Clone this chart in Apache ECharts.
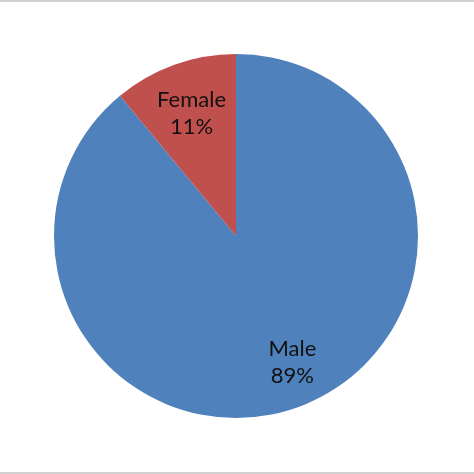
<!DOCTYPE html>
<html>
<head>
<meta charset="utf-8">
<script src="https://cdn.jsdelivr.net/npm/echarts@6/dist/echarts.min.js"></script>
<style>
  html, body { margin: 0; padding: 0; background: #fff; }
  #chart { width: 474px; height: 474px; box-sizing: border-box;
           border-top: 2px solid #d0d0d0; border-bottom: 2px solid #d0d0d0; }
</style>
</head>
<body>
<div id="chart"></div>
<script>
var categories = ["Male", "Female"];
var values = [89, 11];
var colors = ["#4F81BD", "#C0504D"];

var pieData = categories.map(function (name, i) {
  return { name: name, value: values[i], itemStyle: { color: colors[i] } };
});

var myChart = echarts.init(document.getElementById("chart"));

var option = {
  animation: false,
  series: [
    {
      // the pie itself
      type: "pie",
      center: [236, 234],
      radius: [0, 182],
      startAngle: 90,
      clockwise: true,
      silent: true,
      label: { show: false },
      labelLine: { show: false },
      data: pieData
    },
    {
      // transparent copy, only used to put labels further out
      type: "pie",
      center: [236, 234],
      radius: [0, 268],
      startAngle: 90,
      clockwise: true,
      silent: true,
      itemStyle: { color: "rgba(0,0,0,0)" },
      label: {
        show: true,
        position: "inside",
        formatter: "{b}\n{d}%",
        fontFamily: "Lato",
        fontSize: 22,
        lineHeight: 27,
        color: "#111"
      },
      labelLine: { show: false },
      labelLayout: function (params) {
        // Excel puts the Male label a bit further right
        return params.dataIndex === 0 ? { dx: 10, dy: -2 } : { dx: 2, dy: 6 };
      },
      data: categories.map(function (name, i) {
        return { name: name, value: values[i] };
      })
    }
  ]
};

myChart.setOption(option);
</script>
</body>
</html>
